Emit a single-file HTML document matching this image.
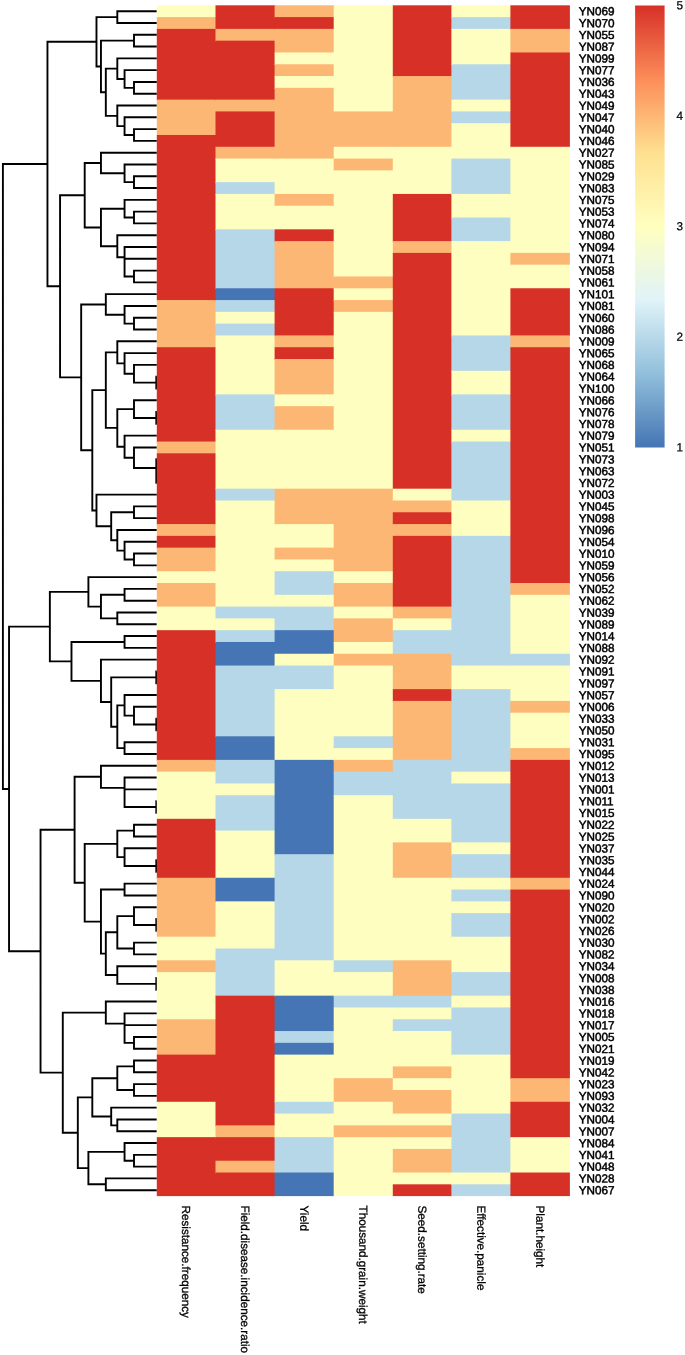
<!DOCTYPE html>
<html lang="en"><head><meta charset="utf-8"><title>Heatmap</title>
<style>html,body{margin:0;padding:0;background:#fff}svg{display:block}text{font-family:"Liberation Sans",sans-serif;fill:#000;stroke:#000;text-rendering:geometricPrecision}</style></head><body>
<svg width="685" height="1355" viewBox="0 0 685 1355">
<rect width="685" height="1355" fill="#fff"/>
<path d="M156.8 919.03H156.3V930.82H156.8M156.8 977.98H156.3V989.77H156.8M156.8 801.13H156.3V812.92H156.8M156.8 718.6H156.3V730.39H156.8M156.8 860.08H156.3V871.87H156.8M156.8 471.01H156.3V482.8H156.8M156.8 459.22H156.3V476.9H156.8M156.8 376.69H156.3V388.48H156.8M156.8 412.06H156.3V423.85H156.8M156.8 671.44H156.3V683.23H156.8M156.8 907.24H134V924.93H156.8M156.8 1036.93H134V1048.72H156.8M156.8 706.81H134V724.5H156.8M156.8 553.54H134V565.33H156.8M156.8 1060.51H134V1072.3H156.8M156.8 824.71H134V836.5H156.8M156.8 1084.09H134V1095.88H156.8M156.8 176.26H134V188.05H156.8M156.8 942.61H134V954.4H156.8M156.8 81.94H134V93.73H156.8M156.8 129.1H134V140.89H156.8M156.8 1154.83H134V1166.62H156.8M156.8 506.38H134V518.17H156.8M156.8 447.43H134V468.06H156.8M156.8 211.63H134V223.42H156.8M156.8 34.78H134V46.57H156.8M156.8 270.58H134V282.37H156.8M156.8 317.74H134V329.53H156.8M156.8 364.9H134V382.58H156.8M156.8 400.27H134V417.95H156.8M156.8 789.34H124.56V807.03H156.8M156.8 777.55H124.56V798.18H124.56M156.8 1025.14H124.56V1042.83H134M156.8 1013.35H124.56V1033.99H124.56M156.8 695.02H124.56V715.65H134M156.8 541.75H124.56V559.43H134M156.8 636.07H124.56V647.86H156.8M156.8 883.66H124.56V895.45H156.8M156.8 164.47H124.56V182.15H134M156.8 742.18H124.56V753.97H156.8M156.8 848.29H124.56V865.98H156.8M156.8 70.15H124.56V87.83H134M156.8 117.31H124.56V134.99H134M156.8 1143.04H124.56V1160.73H134M156.8 435.64H124.56V457.75H134M156.8 588.91H124.56V600.7H156.8M156.8 199.84H124.56V217.52H134M156.8 258.79H124.56V276.47H134M156.8 247H124.56V267.63H124.56M156.8 305.95H124.56V323.63H134M156.8 353.11H124.56V373.74H134M134 916.09H117.31V948.51H134M156.8 1119.46H117.31V1131.25H156.8M124.56 705.34H117.31V748.08H124.56M156.8 966.19H117.31V983.88H156.8M156.8 341.32H117.31V363.42H124.56M156.8 529.96H117.31V550.59H124.56M134 1066.41H117.31V1089.99H134M134 830.61H117.31V857.13H124.56M156.8 58.36H117.31V78.99H124.56M156.8 612.49H117.31V624.28H156.8M156.8 105.52H117.31V126.15H124.56M134 409.11H117.31V446.69H124.56M156.8 235.21H117.31V257.31H124.56M156.8 11.2H117.31V22.99H156.8M156.8 1107.67H111.2V1125.36H117.31M156.8 677.34H111.2V726.71H117.31M134 512.27H111.2V540.28H117.31M117.31 932.3H105.82V975.04H117.31M156.8 1001.56H105.82V1023.67H124.56M117.31 352.37H105.82V427.9H117.31M156.8 1178.41H105.82V1190.2H156.8M117.31 68.67H105.82V115.83H117.31M156.8 294.16H105.82V314.79H124.56M156.8 765.76H100.95V787.87H124.56M124.56 889.56H100.95V953.67H105.82M156.8 659.65H100.95V702.02H111.2M156.8 152.68H100.95V173.31H124.56M134 40.67H100.95V92.25H105.82M124.56 594.8H100.95V618.39H117.31M124.56 208.68H100.95V246.26H117.31M156.8 494.59H96.48V526.27H111.2M117.31 17.09H96.48V66.46H100.95M105.82 390.14H92.31V510.43H96.48M117.31 1078.2H92.31V1116.52H111.2M124.56 1151.89H88.4V1184.31H105.82M156.8 577.12H88.4V606.6H100.95M117.31 843.87H84.7V921.61H100.95M100.95 162.99H84.7V227.47H100.95M105.82 304.47H81.18V450.28H92.31M92.31 1097.36H77.82V1168.1H88.4M100.95 776.81H74.59V882.74H84.7M124.56 641.97H71.49V680.84H100.95M105.82 1012.62H62.79V1132.73H77.82M84.7 195.23H60.07V377.38H81.18M88.4 591.86H49.86V661.4H71.49M96.48 41.78H47.46V286.31H60.07M74.59 829.78H40.54V1072.67H62.79M49.86 626.63H9.04V951.23H40.54M47.46 164.04H2.9V788.93H9.04" fill="none" stroke="#000" stroke-width="1.9" stroke-linejoin="miter" stroke-linecap="butt"/>
<g id="heat">
<rect x="156.8" y="5.3" width="59.7" height="12.79" fill="#FEFEC0"/>
<rect x="156.8" y="17.09" width="59.7" height="12.79" fill="#FDB775"/>
<rect x="156.8" y="28.88" width="59.7" height="71.74" fill="#D73027"/>
<rect x="156.8" y="99.62" width="59.7" height="36.37" fill="#FDB775"/>
<rect x="156.8" y="134.99" width="59.7" height="166.06" fill="#D73027"/>
<rect x="156.8" y="300.05" width="59.7" height="48.16" fill="#FDB775"/>
<rect x="156.8" y="347.21" width="59.7" height="95.32" fill="#D73027"/>
<rect x="156.8" y="441.53" width="59.7" height="12.79" fill="#FDB775"/>
<rect x="156.8" y="453.32" width="59.7" height="71.74" fill="#D73027"/>
<rect x="156.8" y="524.06" width="59.7" height="12.79" fill="#FDB775"/>
<rect x="156.8" y="535.85" width="59.7" height="12.79" fill="#D73027"/>
<rect x="156.8" y="547.64" width="59.7" height="24.58" fill="#FDB775"/>
<rect x="156.8" y="571.22" width="59.7" height="12.79" fill="#FEFEC0"/>
<rect x="156.8" y="583.01" width="59.7" height="24.58" fill="#FDB775"/>
<rect x="156.8" y="606.6" width="59.7" height="24.58" fill="#FEFEC0"/>
<rect x="156.8" y="630.18" width="59.7" height="130.69" fill="#D73027"/>
<rect x="156.8" y="759.87" width="59.7" height="12.79" fill="#FDB775"/>
<rect x="156.8" y="771.66" width="59.7" height="48.16" fill="#FEFEC0"/>
<rect x="156.8" y="818.82" width="59.7" height="59.95" fill="#D73027"/>
<rect x="156.8" y="877.77" width="59.7" height="59.95" fill="#FDB775"/>
<rect x="156.8" y="936.72" width="59.7" height="24.58" fill="#FEFEC0"/>
<rect x="156.8" y="960.3" width="59.7" height="12.79" fill="#FDB775"/>
<rect x="156.8" y="972.09" width="59.7" height="48.16" fill="#FEFEC0"/>
<rect x="156.8" y="1019.25" width="59.7" height="36.37" fill="#FDB775"/>
<rect x="156.8" y="1054.62" width="59.7" height="48.16" fill="#D73027"/>
<rect x="156.8" y="1101.78" width="59.7" height="36.37" fill="#FEFEC0"/>
<rect x="156.8" y="1137.15" width="59.7" height="58.95" fill="#D73027"/>
<rect x="215.5" y="5.3" width="60.1" height="24.58" fill="#D73027"/>
<rect x="215.5" y="28.88" width="60.1" height="12.79" fill="#FDB775"/>
<rect x="215.5" y="40.67" width="60.1" height="59.95" fill="#D73027"/>
<rect x="215.5" y="99.62" width="60.1" height="12.79" fill="#FDB775"/>
<rect x="215.5" y="111.41" width="60.1" height="36.37" fill="#D73027"/>
<rect x="215.5" y="146.78" width="60.1" height="12.79" fill="#FDB775"/>
<rect x="215.5" y="158.57" width="60.1" height="24.58" fill="#FEFEC0"/>
<rect x="215.5" y="182.15" width="60.1" height="12.79" fill="#B5D7E8"/>
<rect x="215.5" y="193.94" width="60.1" height="36.37" fill="#FEFEC0"/>
<rect x="215.5" y="229.31" width="60.1" height="59.95" fill="#B5D7E8"/>
<rect x="215.5" y="288.26" width="60.1" height="12.79" fill="#4575B4"/>
<rect x="215.5" y="300.05" width="60.1" height="12.79" fill="#B5D7E8"/>
<rect x="215.5" y="311.84" width="60.1" height="12.79" fill="#FEFEC0"/>
<rect x="215.5" y="323.63" width="60.1" height="12.79" fill="#B5D7E8"/>
<rect x="215.5" y="335.42" width="60.1" height="59.95" fill="#FEFEC0"/>
<rect x="215.5" y="394.37" width="60.1" height="36.37" fill="#B5D7E8"/>
<rect x="215.5" y="429.74" width="60.1" height="59.95" fill="#FEFEC0"/>
<rect x="215.5" y="488.69" width="60.1" height="12.79" fill="#B5D7E8"/>
<rect x="215.5" y="500.48" width="60.1" height="107.11" fill="#FEFEC0"/>
<rect x="215.5" y="606.6" width="60.1" height="12.79" fill="#B5D7E8"/>
<rect x="215.5" y="618.39" width="60.1" height="12.79" fill="#FEFEC0"/>
<rect x="215.5" y="630.18" width="60.1" height="12.79" fill="#B5D7E8"/>
<rect x="215.5" y="641.97" width="60.1" height="24.58" fill="#4575B4"/>
<rect x="215.5" y="665.55" width="60.1" height="71.74" fill="#B5D7E8"/>
<rect x="215.5" y="736.29" width="60.1" height="24.58" fill="#4575B4"/>
<rect x="215.5" y="759.87" width="60.1" height="24.58" fill="#B5D7E8"/>
<rect x="215.5" y="783.45" width="60.1" height="12.79" fill="#FEFEC0"/>
<rect x="215.5" y="795.24" width="60.1" height="36.37" fill="#B5D7E8"/>
<rect x="215.5" y="830.61" width="60.1" height="48.16" fill="#FEFEC0"/>
<rect x="215.5" y="877.77" width="60.1" height="24.58" fill="#4575B4"/>
<rect x="215.5" y="901.35" width="60.1" height="48.16" fill="#FEFEC0"/>
<rect x="215.5" y="948.51" width="60.1" height="48.16" fill="#B5D7E8"/>
<rect x="215.5" y="995.67" width="60.1" height="130.69" fill="#D73027"/>
<rect x="215.5" y="1125.36" width="60.1" height="12.79" fill="#FDB775"/>
<rect x="215.5" y="1137.15" width="60.1" height="24.58" fill="#D73027"/>
<rect x="215.5" y="1160.73" width="60.1" height="12.79" fill="#FDB775"/>
<rect x="215.5" y="1172.52" width="60.1" height="23.58" fill="#D73027"/>
<rect x="274.6" y="5.3" width="60.1" height="12.79" fill="#FDB775"/>
<rect x="274.6" y="17.09" width="60.1" height="12.79" fill="#D73027"/>
<rect x="274.6" y="28.88" width="60.1" height="24.58" fill="#FDB775"/>
<rect x="274.6" y="52.46" width="60.1" height="12.79" fill="#FEFEC0"/>
<rect x="274.6" y="64.25" width="60.1" height="12.79" fill="#FDB775"/>
<rect x="274.6" y="76.04" width="60.1" height="12.79" fill="#FEFEC0"/>
<rect x="274.6" y="87.83" width="60.1" height="71.74" fill="#FDB775"/>
<rect x="274.6" y="158.57" width="60.1" height="36.37" fill="#FEFEC0"/>
<rect x="274.6" y="193.94" width="60.1" height="12.79" fill="#FDB775"/>
<rect x="274.6" y="205.73" width="60.1" height="24.58" fill="#FEFEC0"/>
<rect x="274.6" y="229.31" width="60.1" height="12.79" fill="#D73027"/>
<rect x="274.6" y="241.1" width="60.1" height="48.16" fill="#FDB775"/>
<rect x="274.6" y="288.26" width="60.1" height="48.16" fill="#D73027"/>
<rect x="274.6" y="335.42" width="60.1" height="12.79" fill="#FDB775"/>
<rect x="274.6" y="347.21" width="60.1" height="12.79" fill="#D73027"/>
<rect x="274.6" y="359" width="60.1" height="36.37" fill="#FDB775"/>
<rect x="274.6" y="394.37" width="60.1" height="12.79" fill="#FEFEC0"/>
<rect x="274.6" y="406.16" width="60.1" height="24.58" fill="#FDB775"/>
<rect x="274.6" y="429.74" width="60.1" height="59.95" fill="#FEFEC0"/>
<rect x="274.6" y="488.69" width="60.1" height="36.37" fill="#FDB775"/>
<rect x="274.6" y="524.06" width="60.1" height="24.58" fill="#FEFEC0"/>
<rect x="274.6" y="547.64" width="60.1" height="12.79" fill="#FDB775"/>
<rect x="274.6" y="559.43" width="60.1" height="12.79" fill="#FEFEC0"/>
<rect x="274.6" y="571.22" width="60.1" height="24.58" fill="#B5D7E8"/>
<rect x="274.6" y="594.8" width="60.1" height="12.79" fill="#FEFEC0"/>
<rect x="274.6" y="606.6" width="60.1" height="24.58" fill="#B5D7E8"/>
<rect x="274.6" y="630.18" width="60.1" height="24.58" fill="#4575B4"/>
<rect x="274.6" y="653.76" width="60.1" height="12.79" fill="#FEFEC0"/>
<rect x="274.6" y="665.55" width="60.1" height="24.58" fill="#B5D7E8"/>
<rect x="274.6" y="689.13" width="60.1" height="71.74" fill="#FEFEC0"/>
<rect x="274.6" y="759.87" width="60.1" height="95.32" fill="#4575B4"/>
<rect x="274.6" y="854.19" width="60.1" height="107.11" fill="#B5D7E8"/>
<rect x="274.6" y="960.3" width="60.1" height="36.37" fill="#FEFEC0"/>
<rect x="274.6" y="995.67" width="60.1" height="36.37" fill="#4575B4"/>
<rect x="274.6" y="1031.04" width="60.1" height="12.79" fill="#B5D7E8"/>
<rect x="274.6" y="1042.83" width="60.1" height="12.79" fill="#4575B4"/>
<rect x="274.6" y="1054.62" width="60.1" height="48.16" fill="#FEFEC0"/>
<rect x="274.6" y="1101.78" width="60.1" height="12.79" fill="#B5D7E8"/>
<rect x="274.6" y="1113.57" width="60.1" height="24.58" fill="#FEFEC0"/>
<rect x="274.6" y="1137.15" width="60.1" height="36.37" fill="#B5D7E8"/>
<rect x="274.6" y="1172.52" width="60.1" height="23.58" fill="#4575B4"/>
<rect x="333.7" y="5.3" width="60.1" height="107.11" fill="#FEFEC0"/>
<rect x="333.7" y="111.41" width="60.1" height="36.37" fill="#FDB775"/>
<rect x="333.7" y="146.78" width="60.1" height="12.79" fill="#FEFEC0"/>
<rect x="333.7" y="158.57" width="60.1" height="12.79" fill="#FDB775"/>
<rect x="333.7" y="170.36" width="60.1" height="107.11" fill="#FEFEC0"/>
<rect x="333.7" y="276.47" width="60.1" height="12.79" fill="#FDB775"/>
<rect x="333.7" y="288.26" width="60.1" height="12.79" fill="#FEFEC0"/>
<rect x="333.7" y="300.05" width="60.1" height="12.79" fill="#FDB775"/>
<rect x="333.7" y="311.84" width="60.1" height="177.85" fill="#FEFEC0"/>
<rect x="333.7" y="488.69" width="60.1" height="83.53" fill="#FDB775"/>
<rect x="333.7" y="571.22" width="60.1" height="12.79" fill="#FEFEC0"/>
<rect x="333.7" y="583.01" width="60.1" height="24.58" fill="#FDB775"/>
<rect x="333.7" y="606.6" width="60.1" height="12.79" fill="#FEFEC0"/>
<rect x="333.7" y="618.39" width="60.1" height="24.58" fill="#FDB775"/>
<rect x="333.7" y="641.97" width="60.1" height="12.79" fill="#FEFEC0"/>
<rect x="333.7" y="653.76" width="60.1" height="12.79" fill="#FDB775"/>
<rect x="333.7" y="665.55" width="60.1" height="71.74" fill="#FEFEC0"/>
<rect x="333.7" y="736.29" width="60.1" height="12.79" fill="#B5D7E8"/>
<rect x="333.7" y="748.08" width="60.1" height="12.79" fill="#FEFEC0"/>
<rect x="333.7" y="759.87" width="60.1" height="12.79" fill="#FDB775"/>
<rect x="333.7" y="771.66" width="60.1" height="24.58" fill="#B5D7E8"/>
<rect x="333.7" y="795.24" width="60.1" height="166.06" fill="#FEFEC0"/>
<rect x="333.7" y="960.3" width="60.1" height="12.79" fill="#B5D7E8"/>
<rect x="333.7" y="972.09" width="60.1" height="24.58" fill="#FEFEC0"/>
<rect x="333.7" y="995.67" width="60.1" height="12.79" fill="#B5D7E8"/>
<rect x="333.7" y="1007.46" width="60.1" height="71.74" fill="#FEFEC0"/>
<rect x="333.7" y="1078.2" width="60.1" height="24.58" fill="#FDB775"/>
<rect x="333.7" y="1101.78" width="60.1" height="24.58" fill="#FEFEC0"/>
<rect x="333.7" y="1125.36" width="60.1" height="12.79" fill="#FDB775"/>
<rect x="333.7" y="1137.15" width="60.1" height="58.95" fill="#FEFEC0"/>
<rect x="392.8" y="5.3" width="59.6" height="71.74" fill="#D73027"/>
<rect x="392.8" y="76.04" width="59.6" height="71.74" fill="#FDB775"/>
<rect x="392.8" y="146.78" width="59.6" height="48.16" fill="#FEFEC0"/>
<rect x="392.8" y="193.94" width="59.6" height="48.16" fill="#D73027"/>
<rect x="392.8" y="241.1" width="59.6" height="12.79" fill="#FDB775"/>
<rect x="392.8" y="252.89" width="59.6" height="236.8" fill="#D73027"/>
<rect x="392.8" y="488.69" width="59.6" height="12.79" fill="#FEFEC0"/>
<rect x="392.8" y="500.48" width="59.6" height="12.79" fill="#FDB775"/>
<rect x="392.8" y="512.27" width="59.6" height="12.79" fill="#D73027"/>
<rect x="392.8" y="524.06" width="59.6" height="12.79" fill="#FDB775"/>
<rect x="392.8" y="535.85" width="59.6" height="71.74" fill="#D73027"/>
<rect x="392.8" y="606.6" width="59.6" height="12.79" fill="#FDB775"/>
<rect x="392.8" y="618.39" width="59.6" height="12.79" fill="#FEFEC0"/>
<rect x="392.8" y="630.18" width="59.6" height="24.58" fill="#B5D7E8"/>
<rect x="392.8" y="653.76" width="59.6" height="36.37" fill="#FDB775"/>
<rect x="392.8" y="689.13" width="59.6" height="12.79" fill="#D73027"/>
<rect x="392.8" y="700.92" width="59.6" height="59.95" fill="#FDB775"/>
<rect x="392.8" y="759.87" width="59.6" height="59.95" fill="#B5D7E8"/>
<rect x="392.8" y="818.82" width="59.6" height="24.58" fill="#FEFEC0"/>
<rect x="392.8" y="842.4" width="59.6" height="36.37" fill="#FDB775"/>
<rect x="392.8" y="877.77" width="59.6" height="83.53" fill="#FEFEC0"/>
<rect x="392.8" y="960.3" width="59.6" height="36.37" fill="#FDB775"/>
<rect x="392.8" y="995.67" width="59.6" height="12.79" fill="#B5D7E8"/>
<rect x="392.8" y="1007.46" width="59.6" height="12.79" fill="#FEFEC0"/>
<rect x="392.8" y="1019.25" width="59.6" height="12.79" fill="#B5D7E8"/>
<rect x="392.8" y="1031.04" width="59.6" height="36.37" fill="#FEFEC0"/>
<rect x="392.8" y="1066.41" width="59.6" height="12.79" fill="#FDB775"/>
<rect x="392.8" y="1078.2" width="59.6" height="12.79" fill="#FEFEC0"/>
<rect x="392.8" y="1089.99" width="59.6" height="24.58" fill="#FDB775"/>
<rect x="392.8" y="1113.57" width="59.6" height="12.79" fill="#FEFEC0"/>
<rect x="392.8" y="1125.36" width="59.6" height="12.79" fill="#FDB775"/>
<rect x="392.8" y="1137.15" width="59.6" height="12.79" fill="#FEFEC0"/>
<rect x="392.8" y="1148.94" width="59.6" height="24.58" fill="#FDB775"/>
<rect x="392.8" y="1172.52" width="59.6" height="12.79" fill="#FEFEC0"/>
<rect x="392.8" y="1184.31" width="59.6" height="11.79" fill="#D73027"/>
<rect x="451.4" y="5.3" width="60" height="12.79" fill="#FEFEC0"/>
<rect x="451.4" y="17.09" width="60" height="12.79" fill="#B5D7E8"/>
<rect x="451.4" y="28.88" width="60" height="36.37" fill="#FEFEC0"/>
<rect x="451.4" y="64.25" width="60" height="36.37" fill="#B5D7E8"/>
<rect x="451.4" y="99.62" width="60" height="12.79" fill="#FEFEC0"/>
<rect x="451.4" y="111.41" width="60" height="12.79" fill="#B5D7E8"/>
<rect x="451.4" y="123.2" width="60" height="36.37" fill="#FEFEC0"/>
<rect x="451.4" y="158.57" width="60" height="36.37" fill="#B5D7E8"/>
<rect x="451.4" y="193.94" width="60" height="24.58" fill="#FEFEC0"/>
<rect x="451.4" y="217.52" width="60" height="24.58" fill="#B5D7E8"/>
<rect x="451.4" y="241.1" width="60" height="95.32" fill="#FEFEC0"/>
<rect x="451.4" y="335.42" width="60" height="36.37" fill="#B5D7E8"/>
<rect x="451.4" y="370.79" width="60" height="24.58" fill="#FEFEC0"/>
<rect x="451.4" y="394.37" width="60" height="36.37" fill="#B5D7E8"/>
<rect x="451.4" y="429.74" width="60" height="12.79" fill="#FEFEC0"/>
<rect x="451.4" y="441.53" width="60" height="59.95" fill="#B5D7E8"/>
<rect x="451.4" y="500.48" width="60" height="36.37" fill="#FEFEC0"/>
<rect x="451.4" y="535.85" width="60" height="130.69" fill="#B5D7E8"/>
<rect x="451.4" y="665.55" width="60" height="24.58" fill="#FEFEC0"/>
<rect x="451.4" y="689.13" width="60" height="83.53" fill="#B5D7E8"/>
<rect x="451.4" y="771.66" width="60" height="12.79" fill="#FEFEC0"/>
<rect x="451.4" y="783.45" width="60" height="59.95" fill="#B5D7E8"/>
<rect x="451.4" y="842.4" width="60" height="12.79" fill="#FEFEC0"/>
<rect x="451.4" y="854.19" width="60" height="24.58" fill="#B5D7E8"/>
<rect x="451.4" y="877.77" width="60" height="12.79" fill="#FEFEC0"/>
<rect x="451.4" y="889.56" width="60" height="12.79" fill="#B5D7E8"/>
<rect x="451.4" y="901.35" width="60" height="12.79" fill="#FEFEC0"/>
<rect x="451.4" y="913.14" width="60" height="24.58" fill="#B5D7E8"/>
<rect x="451.4" y="936.72" width="60" height="36.37" fill="#FEFEC0"/>
<rect x="451.4" y="972.09" width="60" height="24.58" fill="#B5D7E8"/>
<rect x="451.4" y="995.67" width="60" height="12.79" fill="#FEFEC0"/>
<rect x="451.4" y="1007.46" width="60" height="48.16" fill="#B5D7E8"/>
<rect x="451.4" y="1054.62" width="60" height="59.95" fill="#FEFEC0"/>
<rect x="451.4" y="1113.57" width="60" height="59.95" fill="#B5D7E8"/>
<rect x="451.4" y="1172.52" width="60" height="12.79" fill="#FEFEC0"/>
<rect x="451.4" y="1184.31" width="60" height="11.79" fill="#B5D7E8"/>
<rect x="510.4" y="5.3" width="59.5" height="24.58" fill="#D73027"/>
<rect x="510.4" y="28.88" width="59.5" height="24.58" fill="#FDB775"/>
<rect x="510.4" y="52.46" width="59.5" height="95.32" fill="#D73027"/>
<rect x="510.4" y="146.78" width="59.5" height="107.11" fill="#FEFEC0"/>
<rect x="510.4" y="252.89" width="59.5" height="12.79" fill="#FDB775"/>
<rect x="510.4" y="264.68" width="59.5" height="24.58" fill="#FEFEC0"/>
<rect x="510.4" y="288.26" width="59.5" height="48.16" fill="#D73027"/>
<rect x="510.4" y="335.42" width="59.5" height="12.79" fill="#FDB775"/>
<rect x="510.4" y="347.21" width="59.5" height="236.8" fill="#D73027"/>
<rect x="510.4" y="583.01" width="59.5" height="12.79" fill="#FDB775"/>
<rect x="510.4" y="594.8" width="59.5" height="59.95" fill="#FEFEC0"/>
<rect x="510.4" y="653.76" width="59.5" height="12.79" fill="#B5D7E8"/>
<rect x="510.4" y="665.55" width="59.5" height="36.37" fill="#FEFEC0"/>
<rect x="510.4" y="700.92" width="59.5" height="12.79" fill="#FDB775"/>
<rect x="510.4" y="712.71" width="59.5" height="36.37" fill="#FEFEC0"/>
<rect x="510.4" y="748.08" width="59.5" height="12.79" fill="#FDB775"/>
<rect x="510.4" y="759.87" width="59.5" height="118.9" fill="#D73027"/>
<rect x="510.4" y="877.77" width="59.5" height="12.79" fill="#FDB775"/>
<rect x="510.4" y="889.56" width="59.5" height="189.64" fill="#D73027"/>
<rect x="510.4" y="1078.2" width="59.5" height="24.58" fill="#FDB775"/>
<rect x="510.4" y="1101.78" width="59.5" height="36.37" fill="#D73027"/>
<rect x="510.4" y="1137.15" width="59.5" height="36.37" fill="#FEFEC0"/>
<rect x="510.4" y="1172.52" width="59.5" height="23.58" fill="#D73027"/>
</g>
<g font-size="11.7" stroke-width="0.5">
<text transform="translate(578.7 15.33) rotate(0.05)">YN069</text>
<text transform="translate(578.7 27.12) rotate(0.05)">YN070</text>
<text transform="translate(578.7 38.91) rotate(0.05)">YN055</text>
<text transform="translate(578.7 50.7) rotate(0.05)">YN087</text>
<text transform="translate(578.7 62.49) rotate(0.05)">YN099</text>
<text transform="translate(578.7 74.28) rotate(0.05)">YN077</text>
<text transform="translate(578.7 86.07) rotate(0.05)">YN036</text>
<text transform="translate(578.7 97.86) rotate(0.05)">YN043</text>
<text transform="translate(578.7 109.65) rotate(0.05)">YN049</text>
<text transform="translate(578.7 121.44) rotate(0.05)">YN047</text>
<text transform="translate(578.7 133.23) rotate(0.05)">YN040</text>
<text transform="translate(578.7 145.02) rotate(0.05)">YN046</text>
<text transform="translate(578.7 156.81) rotate(0.05)">YN027</text>
<text transform="translate(578.7 168.6) rotate(0.05)">YN085</text>
<text transform="translate(578.7 180.4) rotate(0.05)">YN029</text>
<text transform="translate(578.7 192.19) rotate(0.05)">YN083</text>
<text transform="translate(578.7 203.98) rotate(0.05)">YN075</text>
<text transform="translate(578.7 215.77) rotate(0.05)">YN053</text>
<text transform="translate(578.7 227.56) rotate(0.05)">YN074</text>
<text transform="translate(578.7 239.35) rotate(0.05)">YN080</text>
<text transform="translate(578.7 251.14) rotate(0.05)">YN094</text>
<text transform="translate(578.7 262.93) rotate(0.05)">YN071</text>
<text transform="translate(578.7 274.72) rotate(0.05)">YN058</text>
<text transform="translate(578.7 286.51) rotate(0.05)">YN061</text>
<text transform="translate(578.7 298.3) rotate(0.05)">YN101</text>
<text transform="translate(578.7 310.09) rotate(0.05)">YN081</text>
<text transform="translate(578.7 321.88) rotate(0.05)">YN060</text>
<text transform="translate(578.7 333.67) rotate(0.05)">YN086</text>
<text transform="translate(578.7 345.46) rotate(0.05)">YN009</text>
<text transform="translate(578.7 357.25) rotate(0.05)">YN065</text>
<text transform="translate(578.7 369.04) rotate(0.05)">YN068</text>
<text transform="translate(578.7 380.83) rotate(0.05)">YN064</text>
<text transform="translate(578.7 392.62) rotate(0.05)">YN100</text>
<text transform="translate(578.7 404.41) rotate(0.05)">YN066</text>
<text transform="translate(578.7 416.2) rotate(0.05)">YN076</text>
<text transform="translate(578.7 427.99) rotate(0.05)">YN078</text>
<text transform="translate(578.7 439.78) rotate(0.05)">YN079</text>
<text transform="translate(578.7 451.57) rotate(0.05)">YN051</text>
<text transform="translate(578.7 463.36) rotate(0.05)">YN073</text>
<text transform="translate(578.7 475.15) rotate(0.05)">YN063</text>
<text transform="translate(578.7 486.94) rotate(0.05)">YN072</text>
<text transform="translate(578.7 498.73) rotate(0.05)">YN003</text>
<text transform="translate(578.7 510.52) rotate(0.05)">YN045</text>
<text transform="translate(578.7 522.31) rotate(0.05)">YN098</text>
<text transform="translate(578.7 534.1) rotate(0.05)">YN096</text>
<text transform="translate(578.7 545.89) rotate(0.05)">YN054</text>
<text transform="translate(578.7 557.68) rotate(0.05)">YN010</text>
<text transform="translate(578.7 569.47) rotate(0.05)">YN059</text>
<text transform="translate(578.7 581.26) rotate(0.05)">YN056</text>
<text transform="translate(578.7 593.05) rotate(0.05)">YN052</text>
<text transform="translate(578.7 604.84) rotate(0.05)">YN062</text>
<text transform="translate(578.7 616.63) rotate(0.05)">YN039</text>
<text transform="translate(578.7 628.42) rotate(0.05)">YN089</text>
<text transform="translate(578.7 640.21) rotate(0.05)">YN014</text>
<text transform="translate(578.7 652) rotate(0.05)">YN088</text>
<text transform="translate(578.7 663.79) rotate(0.05)">YN092</text>
<text transform="translate(578.7 675.58) rotate(0.05)">YN091</text>
<text transform="translate(578.7 687.37) rotate(0.05)">YN097</text>
<text transform="translate(578.7 699.16) rotate(0.05)">YN057</text>
<text transform="translate(578.7 710.95) rotate(0.05)">YN006</text>
<text transform="translate(578.7 722.74) rotate(0.05)">YN033</text>
<text transform="translate(578.7 734.53) rotate(0.05)">YN050</text>
<text transform="translate(578.7 746.32) rotate(0.05)">YN031</text>
<text transform="translate(578.7 758.11) rotate(0.05)">YN095</text>
<text transform="translate(578.7 769.9) rotate(0.05)">YN012</text>
<text transform="translate(578.7 781.69) rotate(0.05)">YN013</text>
<text transform="translate(578.7 793.48) rotate(0.05)">YN001</text>
<text transform="translate(578.7 805.27) rotate(0.05)">YN011</text>
<text transform="translate(578.7 817.06) rotate(0.05)">YN015</text>
<text transform="translate(578.7 828.85) rotate(0.05)">YN022</text>
<text transform="translate(578.7 840.64) rotate(0.05)">YN025</text>
<text transform="translate(578.7 852.43) rotate(0.05)">YN037</text>
<text transform="translate(578.7 864.22) rotate(0.05)">YN035</text>
<text transform="translate(578.7 876.01) rotate(0.05)">YN044</text>
<text transform="translate(578.7 887.8) rotate(0.05)">YN024</text>
<text transform="translate(578.7 899.59) rotate(0.05)">YN090</text>
<text transform="translate(578.7 911.38) rotate(0.05)">YN020</text>
<text transform="translate(578.7 923.17) rotate(0.05)">YN002</text>
<text transform="translate(578.7 934.96) rotate(0.05)">YN026</text>
<text transform="translate(578.7 946.75) rotate(0.05)">YN030</text>
<text transform="translate(578.7 958.54) rotate(0.05)">YN082</text>
<text transform="translate(578.7 970.33) rotate(0.05)">YN034</text>
<text transform="translate(578.7 982.12) rotate(0.05)">YN008</text>
<text transform="translate(578.7 993.91) rotate(0.05)">YN038</text>
<text transform="translate(578.7 1005.7) rotate(0.05)">YN016</text>
<text transform="translate(578.7 1017.49) rotate(0.05)">YN018</text>
<text transform="translate(578.7 1029.28) rotate(0.05)">YN017</text>
<text transform="translate(578.7 1041.07) rotate(0.05)">YN005</text>
<text transform="translate(578.7 1052.86) rotate(0.05)">YN021</text>
<text transform="translate(578.7 1064.65) rotate(0.05)">YN019</text>
<text transform="translate(578.7 1076.44) rotate(0.05)">YN042</text>
<text transform="translate(578.7 1088.23) rotate(0.05)">YN023</text>
<text transform="translate(578.7 1100.02) rotate(0.05)">YN093</text>
<text transform="translate(578.7 1111.81) rotate(0.05)">YN032</text>
<text transform="translate(578.7 1123.6) rotate(0.05)">YN004</text>
<text transform="translate(578.7 1135.39) rotate(0.05)">YN007</text>
<text transform="translate(578.7 1147.18) rotate(0.05)">YN084</text>
<text transform="translate(578.7 1158.97) rotate(0.05)">YN041</text>
<text transform="translate(578.7 1170.76) rotate(0.05)">YN048</text>
<text transform="translate(578.7 1182.55) rotate(0.05)">YN028</text>
<text transform="translate(578.7 1194.34) rotate(0.05)">YN067</text>
</g>
<g font-size="11.7" stroke-width="0.3">
<text transform="translate(182.12 1205.5) rotate(90.04)">Resistance.frequency</text>
<text transform="translate(241.13 1205.5) rotate(90.04)">Field.disease.incidence.ratio</text>
<text transform="translate(300.15 1205.5) rotate(90.04)">Yield</text>
<text transform="translate(359.16 1205.5) rotate(90.04)">Thousand.grain.weight</text>
<text transform="translate(418.18 1205.5) rotate(90.04)">Seed.setting.rate</text>
<text transform="translate(477.19 1205.5) rotate(90.04)">Effective.panicle</text>
<text transform="translate(536.2 1205.5) rotate(90.04)">Plant.height</text>
</g>
<defs><linearGradient id="lg" x1="0" y1="0" x2="0" y2="1">
<stop offset="0%" stop-color="#D73027"/>
<stop offset="16.67%" stop-color="#FC8D59"/>
<stop offset="33.33%" stop-color="#FEE090"/>
<stop offset="50%" stop-color="#FFFFBF"/>
<stop offset="66.67%" stop-color="#E0F3F8"/>
<stop offset="83.33%" stop-color="#91BFDB"/>
<stop offset="100%" stop-color="#4575B4"/>
</linearGradient></defs>
<rect x="635.1" y="5.5" width="29.5" height="442" fill="url(#lg)"/>
<g font-size="11.7" stroke-width="0.25">
<text transform="translate(676.5 9.19) rotate(0.05)">5</text>
<text transform="translate(676.5 119.69) rotate(0.05)">4</text>
<text transform="translate(676.5 230.19) rotate(0.05)">3</text>
<text transform="translate(676.5 340.69) rotate(0.05)">2</text>
<text transform="translate(676.5 451.19) rotate(0.05)">1</text>
</g>
</svg></body></html>
